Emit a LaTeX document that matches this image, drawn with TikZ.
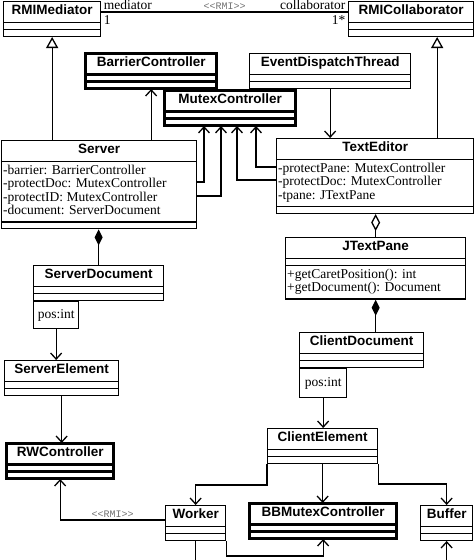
\documentclass[tikz,border=0pt]{standalone}
\usepackage{fontspec}
\setmainfont{Liberation Serif}
\setsansfont{Liberation Sans}
\setmonofont{Liberation Mono}
\usepackage{tikz}
\usetikzlibrary{shapes.multipart,arrows.meta}

\renewcommand{\arraystretch}{0.95}
\newcommand{\cname}[1]{{\sffamily\bfseries\fontsize{13.5}{14}\selectfont\strut#1}}
\newcommand{\attrlist}[1]{\begin{tabular}{@{}l@{}}#1\end{tabular}}
\newcommand{\nocomp}{\hbox to 1pt{}}

\begin{document}
\begin{tikzpicture}[
  x=1pt, y=-1pt,
  cls/.style={rectangle split, rectangle split parts=3, draw, line width=1.3pt,
    rectangle split part align={center,left,left},
    inner xsep=1.5pt, inner ysep=2.8pt, anchor=north west,
    font=\fontsize{13.5}{14}\selectfont},
  active/.style={cls, postaction={draw, line width=2.8pt}},
  qual/.style={rectangle, draw, line width=1.3pt, anchor=north west,
    inner sep=1pt, font=\fontsize{13.5}{14}\selectfont},
  rmi/.style={font=\fontsize{10}{10}\selectfont\ttfamily, text=black!55, inner sep=1.5pt},
  role/.style={font=\fontsize{13.5}{14}\selectfont, inner xsep=2pt, inner ysep=0pt},
  dep/.style={-{Straight Barb[length=6pt,width=11pt]}, line width=1.3pt},
  inherit/.style={-{Triangle[open,length=11pt,width=12pt]}, line width=1.3pt},
  comp/.style={{Diamond[length=16pt,width=8pt]}-, line width=1.3pt},
  agg/.style={{Diamond[open,length=17pt,width=9pt]}-, line width=1.3pt}
]
\useasboundingbox (0,0) rectangle (474,560);
\node[cls, minimum width=97pt] (med) at (3,1) {\cname{RMIMediator}\nodepart{two}\nocomp\nodepart{three}\nocomp};
\node[cls, minimum width=125pt] (collab) at (348,1) {\cname{RMICollaborator}\nodepart{two}\nocomp\nodepart{three}\nocomp};
\node[active, minimum width=131pt] (barrier) at (85,53) {\cname{BarrierController}\nodepart{two}\nocomp\nodepart{three}\nocomp};
\node[active, minimum width=131pt] (mutex) at (164,90) {\cname{MutexController}\nodepart{two}\nocomp\nodepart{three}\nocomp};
\node[cls, minimum width=161pt] (edt) at (249,53) {\cname{EventDispatchThread}\nodepart{two}\nocomp\nodepart{three}\nocomp};
\node[cls, minimum width=195pt] (server) at (1,140) {\cname{Server}\nodepart{two}\attrlist{-barrier: BarrierController\\-protectDoc: MutexController\\-protectID: MutexController\\-document: ServerDocument}\nodepart{three}\nocomp};
\node[cls, minimum width=197pt] (editor) at (276,138) {\cname{TextEditor}\nodepart{two}\attrlist{-protectPane: MutexController\\-protectDoc: MutexController\\-tpane: JTextPane}\nodepart{three}\nocomp};
\node[cls, minimum width=180pt] (jtp) at (285,237) {\cname{JTextPane}\nodepart{two}\nocomp\nodepart{three}\attrlist{+getCaretPosition(): int\\+getDocument(): Document}};
\node[cls, minimum width=130pt] (sdoc) at (33,265) {\cname{ServerDocument}\nodepart{two}\nocomp\nodepart{three}\nocomp};
\node[qual, minimum width=45pt, minimum height=27pt] (spos) at (sdoc.south west) {pos:int};
\node[cls, minimum width=114pt] (selem) at (4,360) {\cname{ServerElement}\nodepart{two}\nocomp\nodepart{three}\nocomp};
\node[active, minimum width=107pt] (rwc) at (6,443) {\cname{RWController}\nodepart{two}\nocomp\nodepart{three}\nocomp};
\node[cls, minimum width=124pt] (cdoc) at (299,332) {\cname{ClientDocument}\nodepart{two}\nocomp\nodepart{three}\nocomp};
\node[qual, minimum width=47pt, minimum height=29pt] (cpos) at (cdoc.south west) {pos:int};
\node[cls, minimum width=110pt] (celem) at (267,428) {\cname{ClientElement}\nodepart{two}\nocomp\nodepart{three}\nocomp};
\node[cls, minimum width=60pt] (worker) at (165,505) {\cname{Worker}\nodepart{two}\nocomp\nodepart{three}\nocomp};
\node[active, minimum width=147pt] (bbm) at (249,503) {\cname{BBMutexController}\nodepart{two}\nocomp\nodepart{three}\nocomp};
\node[cls, minimum width=52pt] (buffer) at (420,505) {\cname{Buffer}\nodepart{two}\nocomp\nodepart{three}\nocomp};
\coordinate (collabfoot) at ([xshift=26pt]collab.south);
\coordinate (edge) at (0,562);
\draw[line width=1.3pt] ([yshift=-11pt]med.north east) -- ([yshift=-11pt]collab.north west)
  node[pos=0, above right, role, yshift=1.5pt] {mediator} node[pos=0, below right, role, yshift=-2.5pt] {1}
  node[pos=1, above left, role, yshift=1.5pt] {collaborator} node[pos=1, below left, role, yshift=-2.5pt] {1*}
  node[midway, above, rmi] {<<RMI>>};
\draw[inherit] (server.north -| med.south) -- (med.south);
\draw[inherit] (collabfoot |- editor.north) -- (collabfoot);
\draw[dep] (server.north -| barrier.south) -- (barrier.south);
\draw[dep] ([yshift=-42pt]server.north east) -| ([xshift=40pt]mutex.south west);
\draw[dep] ([yshift=-56pt]server.north east) -| ([xshift=57pt]mutex.south west);
\draw[dep] ([yshift=-42pt]editor.north west) -| ([xshift=73pt]mutex.south west);
\draw[dep] ([yshift=-29pt]editor.north west) -| ([xshift=92pt]mutex.south west);
\draw[dep] (edt.south) -- (edt.south |- editor.north);
\draw[comp] (server.south -| sdoc.north) -- (sdoc.north);
\draw[dep] (spos.south) -- (spos.south |- selem.north);
\draw[dep] (selem.south) -- (selem.south |- rwc.north);
\draw[dep] ([yshift=-15pt]worker.north west) -| (rwc.south) node[pos=0.25, above, rmi] {<<RMI>>};
\draw[agg] (jtp.north |- editor.south) -- (jtp.north);
\draw[comp] (jtp.south) -- (jtp.south |- cdoc.north);
\draw[dep] (cpos.south) -- (cpos.south |- celem.north);
\draw[dep] (celem.south west) -- ++(0,21) -| (worker.north);
\draw[dep] (celem.south) -- (celem.south |- bbm.north);
\draw[dep] (celem.south east) -- ++(0,20) -| (buffer.north);
\draw[dep] (worker.south east) -- ++(0,15) -| (bbm.south);
\draw[line width=1.3pt] (worker.south) -- (worker.south |- edge);
\draw[dep] (buffer.south |- edge) -- (buffer.south);
\end{tikzpicture}
\end{document}
